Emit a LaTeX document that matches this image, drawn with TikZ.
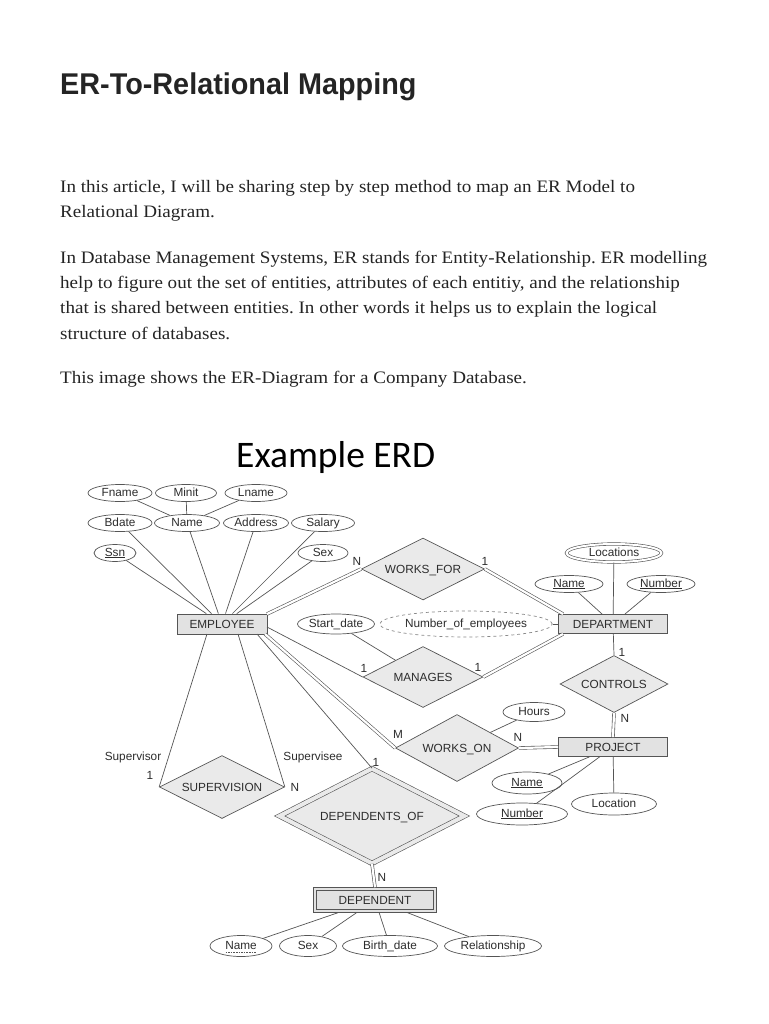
\documentclass[tikz,border=0pt]{standalone}
\usepackage{fontspec}
\setmainfont{Liberation Serif}
\newfontfamily\dfont{Liberation Sans}
\newfontfamily\tfont[FakeStretch=0.96]{Liberation Sans}
\newfontfamily\cfont{Carlito}
\newfontfamily\bodyfont[FakeStretch=1.09]{Liberation Serif}
\usetikzlibrary{shapes.geometric,calc}
\definecolor{txtc}{RGB}{36,36,36}
\definecolor{dtxt}{RGB}{45,45,45}
\definecolor{lncol}{RGB}{85,85,85}
\definecolor{efill}{RGB}{226,226,226}
\definecolor{rfill}{RGB}{234,234,234}
\tikzset{
  dfnt/.style={font=\dfont\fontsize{11.8}{13}\selectfont, text=dtxt},
  sz/.style 2 args={minimum width=#1pt, minimum height=#2pt},
  ent/.style={rectangle, draw=lncol, fill=efill, line width=0.8pt, inner sep=0, text height=8.5pt, text depth=0pt, dfnt},
  att/.style={ellipse, draw=lncol, fill=white, line width=0.7pt, inner sep=0, text height=8.5pt, text depth=2.5pt, dfnt},
  rel/.style={diamond, aspect=2, draw=lncol, fill=rfill, line width=0.7pt, inner sep=0, text height=8.5pt, text depth=0pt, dfnt},
  conn/.style={draw=lncol, line width=0.7pt},
  dconn/.style={draw=lncol, line width=0.6pt, double=white, double distance=2.2pt},
  lbl/.style={inner sep=0, dfnt},
  bodyline/.style={anchor=base west, inner sep=0, text=txtc, font=\bodyfont\fontsize{17.5}{20}\selectfont},
}
\begin{document}
\frenchspacing
\begin{tikzpicture}[x=1pt,y=-1pt]
\fill[white] (0,0) rectangle (768,1024);
\useasboundingbox (0,0) rectangle (768,1024);

% ---------- header text ----------
\node[anchor=base west, inner sep=0, text=txtc, font=\tfont\bfseries\fontsize{30}{34}\selectfont] (title) at (60,95) {ER-To-Relational Mapping};
\node[bodyline] (p1) at (60,193) {In this article, I will be sharing step by step method to map an ER Model to};
\node[bodyline] (p2) at (60,218) {Relational Diagram.};
\node[bodyline] (p3) at (60,263) {In Database Management Systems, ER stands for Entity-Relationship. ER modelling};
\node[bodyline] (p4) at (60,288) {help to figure out the set of entities, attributes of each entitiy, and the relationship};
\node[bodyline] (p5) at (60,313) {that is shared between entities. In other words it helps us to explain the logical};
\node[bodyline] (p6) at (60,339) {structure of databases.};
\node[bodyline] (p7) at (60,383) {This image shows the ER-Diagram for a Company Database.};
\node[anchor=base west, inner sep=0, text=black, font=\cfont\fontsize{37.5}{40}\selectfont] (erd) at (236,467) {Example ERD};

% ---------- entities ----------
\node[ent, sz={90}{20}] (emp) at (222,624) {EMPLOYEE};
\node[ent, sz={109}{19}] (dept) at (613,624) {DEPARTMENT};
\node[ent, sz={109}{19}] (proj) at (613,747) {PROJECT};
\node[ent, sz={123}{25}, line width=0.6pt] (dep) at (375,900) {};
\node[ent, sz={117}{19}, line width=0.6pt] (depin) at (375,900) {DEPENDENT};

% ---------- relationships ----------
\node[rel, sz={123}{62}] (worksfor) at (423,569) {WORKS\_FOR};
\node[rel, sz={120}{61}] (manages) at (423,677) {MANAGES};
\node[rel, sz={108}{57}] (controls) at (614,684) {CONTROLS};
\node[rel, sz={123}{67}] (workson) at (457,748) {WORKS\_ON};
\node[rel, sz={125}{63}] (superv) at (222,787) {SUPERVISION};
\node[rel, sz={185}{95}, double=rfill, double distance=4pt, line width=0.6pt] (depof) at (372,816) {DEPENDENTS\_OF};

% ---------- attributes ----------
\node[att, sz={64}{17}] (fname) at (120,493) {Fname};
\node[att, sz={61}{17}] (minit) at (186,493) {Minit};
\node[att, sz={62}{17}] (lname) at (256,493) {Lname};
\node[att, sz={64}{17}] (bdate) at (120,523) {Bdate};
\node[att, sz={65}{17}] (ename) at (187,523) {Name};
\node[att, sz={65}{17}] (addr) at (256,523) {Address};
\node[att, sz={63}{17}] (salary) at (323,523) {Salary};
\node[att, sz={42}{17}] (ssn) at (115,553) {\underline{Ssn}};
\node[att, sz={50}{17}] (sex) at (323,553) {Sex};
\node[att, sz={68}{20}] (start) at (336,624) {Start\_date};
\node[att, sz={95}{18}, double=white, double distance=2pt, line width=0.6pt] (locs) at (614,553) {Locations};
\node[att, sz={68}{17}] (dname) at (569,584) {\underline{Name}};
\node[att, sz={68}{17}] (dnum) at (661,584) {\underline{Number}};
\node[att, sz={145}{26}, dashed, draw=lncol!70] (nemp) at (466,624) {Number\_of\_employees};
\node[att, sz={62}{19}] (hours) at (534,712) {Hours};
\node[att, sz={70}{22}] (pname) at (527,783) {\underline{Name}};
\node[att, sz={91}{22}] (pnum) at (522,814) {\underline{Number}};
\node[att, sz={85}{22}] (ploc) at (614,804) {Location};
\node[att, sz={62}{21}] (depname) at (241,946) {Name};
\node[att, sz={57}{21}] (depsex) at (308,946) {Sex};
\node[att, sz={95}{21}] (depbd) at (390,946) {Birth\_date};
\node[att, sz={97}{21}] (deprel) at (493,946) {Relationship};
\draw[draw=lncol, line width=0.6pt, dash pattern=on 1.6pt off 1pt] ($(depname.center)+(-15.5,6.5)$) -- ($(depname.center)+(15.5,6.5)$);

% ---------- attribute connectors ----------
\draw[conn] (fname) -- (ename);
\draw[conn] (minit) -- (ename);
\draw[conn] (lname) -- (ename);
\draw[conn] (bdate) -- (emp);
\draw[conn] (ename) -- (emp);
\draw[conn] (addr) -- (emp);
\draw[conn] (salary) -- (emp);
\draw[conn] (ssn) -- (emp);
\draw[conn] (sex) -- (emp);
\draw[conn] (start) -- (manages);
\draw[conn] (nemp) -- (dept);
\draw[conn] (locs) -- (dept);
\draw[conn] (dname) -- (dept);
\draw[conn] (dnum) -- (dept);
\draw[conn] (hours) -- (workson);
\draw[conn] (pname) -- (proj);
\draw[conn] (pnum) -- (proj);
\draw[conn] (ploc) -- (proj);
\draw[conn] (depname) -- (dep);
\draw[conn] (depsex) -- (dep);
\draw[conn] (depbd) -- (dep);
\draw[conn] (deprel) -- (dep);

% ---------- relationship connectors ----------
\coordinate (eS1) at (207,634);
\coordinate (eS2) at (238,634);
\coordinate (eS3) at (257,634);
\coordinate (eS4) at (265,634);
\coordinate (eE1) at (267,614);
\coordinate (eE2) at (267,627);
\coordinate (dW1) at (563,614);
\coordinate (dW2) at (563,634);

\draw[dconn] (eE1) -- (worksfor.west);
\draw[dconn] (worksfor.east) -- (dW1);
\draw[conn] (eE2) -- (manages.west);
\draw[dconn] (manages.east) -- (dW2);
\draw[conn] (dept) -- (controls.north);
\draw[dconn] (controls.south) -- (proj.north);
\draw[dconn] (eS4) -- (workson.west);
\draw[dconn] (workson.east) -- (proj.west);
\draw[conn] (eS1) -- (superv.west);
\draw[conn] (eS2) -- (superv.east);
\draw[conn] (eS3) -- (depof.north);
\draw[dconn] (depof.south) -- (dep.north);

% ---------- cardinality / role labels ----------
\node[lbl] (l1) at (357,561) {N};
\node[lbl] (l2) at (485,561) {1};
\node[lbl] (l3) at (364,668) {1};
\node[lbl] (l4) at (478,667) {1};
\node[lbl] (l5) at (622,652) {1};
\node[lbl] (l6) at (625,718) {N};
\node[lbl] (l7) at (398,734) {M};
\node[lbl] (l8) at (518,737) {N};
\node[lbl] (l9) at (133,757) {Supervisor};
\node[lbl] (l10) at (150,775) {1};
\node[lbl] (l11) at (313,757) {Supervisee};
\node[lbl] (l12) at (295,787) {N};
\node[lbl] (l13) at (376,762) {1};
\node[lbl] (l14) at (382,877) {N};
\end{tikzpicture}
\end{document}
